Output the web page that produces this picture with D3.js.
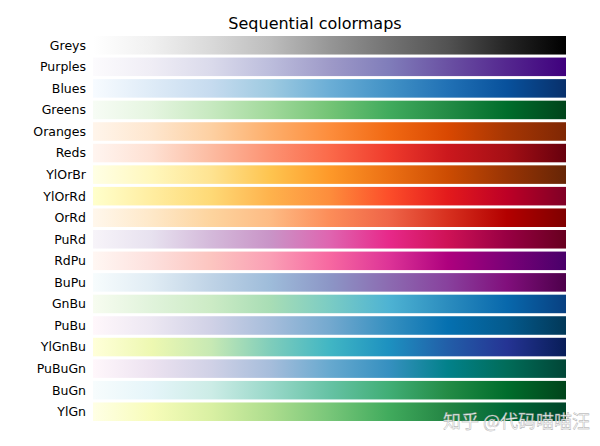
<!DOCTYPE html>
<html>
<head>
<meta charset="utf-8">
<script src="https://cdn.jsdelivr.net/npm/d3@7"></script>
<style>
  body { margin: 0; background: #fff; }
  text { font-family: "DejaVu Sans", sans-serif; }
</style>
</head>
<body>
<svg id="chart" width="600" height="446"></svg>
<script>
// colormap names, top to bottom
const cmapNames = ["Greys", "Purples", "Blues", "Greens", "Oranges", "Reds",
  "YlOrBr", "YlOrRd", "OrRd", "PuRd", "RdPu", "BuPu",
  "GnBu", "PuBu", "YlGnBu", "PuBuGn", "BuGn", "YlGn"];
const chartTitle = "Sequential colormaps";
const watermark = "知乎 @代码喵喵汪";

const margin = { top: 36, right: 34, bottom: 25, left: 93 };
const width = 600, height = 446;

const svg = d3.select("#chart");
const defs = svg.append("defs");

const x = d3.scaleLinear().domain([0, 1]).range([margin.left, width - margin.right]);
const y = d3.scaleBand()
  .domain(cmapNames)
  .range([margin.top, height - margin.bottom])
  .paddingInner(0.14);

cmapNames.forEach(name => {
  // matplotlib builds these from the 9-class brewer schemes, linearly
  const colors = d3["scheme" + name][9];
  const grad = defs.append("linearGradient")
    .attr("id", "g-" + name)
    .attr("x1", "0%").attr("x2", "100%");
  colors.forEach((c, i) => {
    grad.append("stop")
      .attr("offset", (i / (colors.length - 1) * 100) + "%")
      .attr("stop-color", c);
  });
});

svg.selectAll("rect.cmap")
  .data(cmapNames)
  .enter()
  .append("rect")
  .attr("class", "cmap")
  .attr("x", x(0))
  .attr("width", x(1) - x(0))
  .attr("y", d => y(d))
  .attr("height", y.bandwidth())
  .attr("fill", d => `url(#g-${d})`);

svg.selectAll("text.label")
  .data(cmapNames)
  .enter()
  .append("text")
  .attr("class", "label")
  .attr("x", x(0) - 7)
  .attr("y", d => y(d) + y.bandwidth() / 2)
  .attr("dy", "0.35em")
  .attr("text-anchor", "end")
  .style("font-size", "12.5px")
  .text(d => d);

svg.append("text")
  .attr("x", 315)
  .attr("y", 29)
  .attr("text-anchor", "middle")
  .style("font-size", "16px")
  .text(chartTitle);

svg.append("text")
  .attr("x", 590)
  .attr("y", 428)
  .attr("text-anchor", "end")
  .style("font-family", "'Noto Sans CJK SC', sans-serif")
  .style("font-size", "18px")
  .attr("fill", "#ffffff")
  .attr("stroke", "#999")
  .attr("stroke-width", 0.4)
  .attr("opacity", 0.9)
  .text(watermark);
</script>
</body>
</html>
